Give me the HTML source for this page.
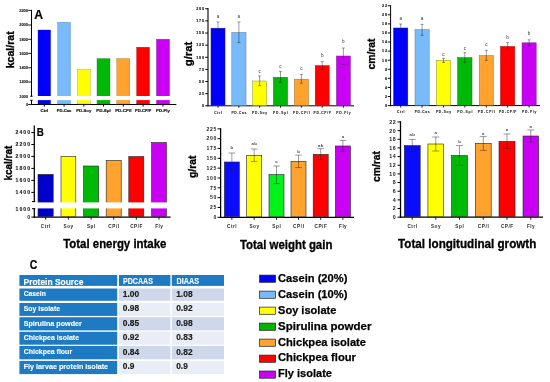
<!DOCTYPE html>
<html lang="en"><head><meta charset="utf-8"><title>Figure</title>
<style>
html,body{margin:0;padding:0;background:#fff;}
body{width:550px;height:382px;overflow:hidden;}
svg{display:block;}
text{font-family:"Liberation Sans",sans-serif;}
</style></head><body>
<svg width="550" height="382" viewBox="0 0 550 382">
<rect x="0" y="0" width="550" height="382" fill="#ffffff"/>
<line x1="31.5" y1="9.9" x2="31.5" y2="96.5" stroke="#000" stroke-width="1.0"/>
<line x1="31.5" y1="100" x2="31.5" y2="105" stroke="#000" stroke-width="1.0"/>
<line x1="31" y1="104.5" x2="176.4" y2="104.5" stroke="#000" stroke-width="1.0"/>
<line x1="28.2" y1="10.4" x2="31.5" y2="10.4" stroke="#000" stroke-width="0.9"/>
<text x="28" y="11.7" font-size="3.7" font-weight="bold" text-anchor="end" fill="#1c1c1c" stroke="#1c1c1c" stroke-width="0.12" textLength="8.8" lengthAdjust="spacingAndGlyphs">2200</text>
<line x1="28.2" y1="25" x2="31.5" y2="25" stroke="#000" stroke-width="0.9"/>
<text x="28" y="26.3" font-size="3.7" font-weight="bold" text-anchor="end" fill="#1c1c1c" stroke="#1c1c1c" stroke-width="0.12" textLength="8.8" lengthAdjust="spacingAndGlyphs">2000</text>
<line x1="28.2" y1="39.3" x2="31.5" y2="39.3" stroke="#000" stroke-width="0.9"/>
<text x="28" y="40.6" font-size="3.7" font-weight="bold" text-anchor="end" fill="#1c1c1c" stroke="#1c1c1c" stroke-width="0.12" textLength="8.8" lengthAdjust="spacingAndGlyphs">1800</text>
<line x1="28.2" y1="53.4" x2="31.5" y2="53.4" stroke="#000" stroke-width="0.9"/>
<text x="28" y="54.7" font-size="3.7" font-weight="bold" text-anchor="end" fill="#1c1c1c" stroke="#1c1c1c" stroke-width="0.12" textLength="8.8" lengthAdjust="spacingAndGlyphs">1600</text>
<line x1="28.2" y1="67.8" x2="31.5" y2="67.8" stroke="#000" stroke-width="0.9"/>
<text x="28" y="69.1" font-size="3.7" font-weight="bold" text-anchor="end" fill="#1c1c1c" stroke="#1c1c1c" stroke-width="0.12" textLength="8.8" lengthAdjust="spacingAndGlyphs">1400</text>
<line x1="28.2" y1="82" x2="31.5" y2="82" stroke="#000" stroke-width="0.9"/>
<text x="28" y="83.3" font-size="3.7" font-weight="bold" text-anchor="end" fill="#1c1c1c" stroke="#1c1c1c" stroke-width="0.12" textLength="8.8" lengthAdjust="spacingAndGlyphs">1200</text>
<line x1="30.1" y1="96.2" x2="32.7" y2="96.2" stroke="#000" stroke-width="0.9"/>
<text x="28" y="97.5" font-size="3.7" font-weight="bold" text-anchor="end" fill="#1c1c1c" stroke="#1c1c1c" stroke-width="0.12" textLength="8.8" lengthAdjust="spacingAndGlyphs">1000</text>
<line x1="30.1" y1="100.3" x2="32.7" y2="100.3" stroke="#000" stroke-width="0.9"/>
<line x1="28.2" y1="104.5" x2="31.5" y2="104.5" stroke="#000" stroke-width="0.9"/>
<text x="28" y="105.8" font-size="3.7" font-weight="bold" text-anchor="end" fill="#1c1c1c" stroke="#1c1c1c" stroke-width="0.12">0</text>
<rect x="38" y="30" width="12.6" height="74" fill="#0000fa" stroke="#1a1a9a" stroke-width="0.35"/>
<line x1="44.3" y1="104.5" x2="44.3" y2="106.6" stroke="#000" stroke-width="1.0"/>
<text x="44.3" y="111.6" font-size="4.3" font-weight="bold" text-anchor="middle" fill="#202020" stroke="#202020" stroke-width="0.2" textLength="7.6" lengthAdjust="spacingAndGlyphs">Ctrl</text>
<rect x="57.6" y="22.2" width="13" height="81.8" fill="#78bafa" stroke="#5c7f9f" stroke-width="0.35"/>
<line x1="64.1" y1="104.5" x2="64.1" y2="106.6" stroke="#000" stroke-width="1.0"/>
<text x="64.1" y="111.6" font-size="4.3" font-weight="bold" text-anchor="middle" fill="#202020" stroke="#202020" stroke-width="0.2" textLength="14.6" lengthAdjust="spacingAndGlyphs">PD-Cas</text>
<rect x="77.3" y="69.4" width="13" height="34.6" fill="#ffff00" stroke="#8f8f30" stroke-width="0.35"/>
<line x1="83.8" y1="104.5" x2="83.8" y2="106.6" stroke="#000" stroke-width="1.0"/>
<text x="83.8" y="111.6" font-size="4.3" font-weight="bold" text-anchor="middle" fill="#202020" stroke="#202020" stroke-width="0.2" textLength="15" lengthAdjust="spacingAndGlyphs">PD-Soy</text>
<rect x="97" y="58.6" width="13" height="45.4" fill="#00b806" stroke="#2a6a2a" stroke-width="0.35"/>
<line x1="103.5" y1="104.5" x2="103.5" y2="106.6" stroke="#000" stroke-width="1.0"/>
<text x="103.5" y="111.6" font-size="4.3" font-weight="bold" text-anchor="middle" fill="#202020" stroke="#202020" stroke-width="0.2" textLength="14.4" lengthAdjust="spacingAndGlyphs">PD-Spl</text>
<rect x="116.8" y="58.6" width="13" height="45.4" fill="#ffa22e" stroke="#9a6a30" stroke-width="0.35"/>
<line x1="123.3" y1="104.5" x2="123.3" y2="106.6" stroke="#000" stroke-width="1.0"/>
<text x="123.3" y="111.6" font-size="4.3" font-weight="bold" text-anchor="middle" fill="#202020" stroke="#202020" stroke-width="0.2" textLength="16.3" lengthAdjust="spacingAndGlyphs">PD-CP/I</text>
<rect x="136.6" y="47.2" width="13" height="56.8" fill="#ff0000" stroke="#a02020" stroke-width="0.35"/>
<line x1="143.1" y1="104.5" x2="143.1" y2="106.6" stroke="#000" stroke-width="1.0"/>
<text x="143.1" y="111.6" font-size="4.3" font-weight="bold" text-anchor="middle" fill="#202020" stroke="#202020" stroke-width="0.2" textLength="16.3" lengthAdjust="spacingAndGlyphs">PD-CP/F</text>
<rect x="156.4" y="39.2" width="13.2" height="64.8" fill="#c900f3" stroke="#7a2a90" stroke-width="0.35"/>
<line x1="163" y1="104.5" x2="163" y2="106.6" stroke="#000" stroke-width="1.0"/>
<text x="163" y="111.6" font-size="4.3" font-weight="bold" text-anchor="middle" fill="#202020" stroke="#202020" stroke-width="0.2" textLength="13.8" lengthAdjust="spacingAndGlyphs">PD-Fly</text>
<rect x="33" y="96" width="144" height="4.1" fill="#fff"/>
<text x="34.2" y="19.1" font-size="13" font-weight="bold" fill="#000" stroke="#000" stroke-width="0.2" textLength="8.8" lengthAdjust="spacingAndGlyphs">A</text>
<text x="14.4" y="68.3" font-size="11.1" font-weight="bold" fill="#000" stroke="#000" stroke-width="0.3" textLength="37.1" lengthAdjust="spacingAndGlyphs" transform="rotate(-90 14.4 68.3)">kcal/rat</text>
<line x1="208" y1="8.1" x2="208" y2="106.3" stroke="#000" stroke-width="1.1"/>
<line x1="207.5" y1="105.8" x2="354" y2="105.8" stroke="#000" stroke-width="1.0"/>
<line x1="205.2" y1="105.8" x2="208" y2="105.8" stroke="#000" stroke-width="0.95"/>
<text x="204" y="107.1" font-size="3.7" font-weight="bold" text-anchor="end" fill="#1c1c1c" stroke="#1c1c1c" stroke-width="0.15">0</text>
<line x1="205.2" y1="93.67" x2="208" y2="93.67" stroke="#000" stroke-width="0.95"/>
<text x="204" y="94.97" font-size="3.7" font-weight="bold" text-anchor="end" fill="#1c1c1c" stroke="#1c1c1c" stroke-width="0.15" textLength="5" lengthAdjust="spacing">25</text>
<line x1="205.2" y1="81.54" x2="208" y2="81.54" stroke="#000" stroke-width="0.95"/>
<text x="204" y="82.84" font-size="3.7" font-weight="bold" text-anchor="end" fill="#1c1c1c" stroke="#1c1c1c" stroke-width="0.15" textLength="5" lengthAdjust="spacing">50</text>
<line x1="205.2" y1="69.41" x2="208" y2="69.41" stroke="#000" stroke-width="0.95"/>
<text x="204" y="70.71" font-size="3.7" font-weight="bold" text-anchor="end" fill="#1c1c1c" stroke="#1c1c1c" stroke-width="0.15" textLength="5" lengthAdjust="spacing">75</text>
<line x1="205.2" y1="57.28" x2="208" y2="57.28" stroke="#000" stroke-width="0.95"/>
<text x="204" y="58.58" font-size="3.7" font-weight="bold" text-anchor="end" fill="#1c1c1c" stroke="#1c1c1c" stroke-width="0.15" textLength="7.7" lengthAdjust="spacing">100</text>
<line x1="205.2" y1="45.15" x2="208" y2="45.15" stroke="#000" stroke-width="0.95"/>
<text x="204" y="46.45" font-size="3.7" font-weight="bold" text-anchor="end" fill="#1c1c1c" stroke="#1c1c1c" stroke-width="0.15" textLength="7.7" lengthAdjust="spacing">125</text>
<line x1="205.2" y1="33.02" x2="208" y2="33.02" stroke="#000" stroke-width="0.95"/>
<text x="204" y="34.32" font-size="3.7" font-weight="bold" text-anchor="end" fill="#1c1c1c" stroke="#1c1c1c" stroke-width="0.15" textLength="7.7" lengthAdjust="spacing">150</text>
<line x1="205.2" y1="20.89" x2="208" y2="20.89" stroke="#000" stroke-width="0.95"/>
<text x="204" y="22.19" font-size="3.7" font-weight="bold" text-anchor="end" fill="#1c1c1c" stroke="#1c1c1c" stroke-width="0.15" textLength="7.7" lengthAdjust="spacing">175</text>
<line x1="205.2" y1="8.76" x2="208" y2="8.76" stroke="#000" stroke-width="0.95"/>
<text x="204" y="10.06" font-size="3.7" font-weight="bold" text-anchor="end" fill="#1c1c1c" stroke="#1c1c1c" stroke-width="0.15" textLength="7.7" lengthAdjust="spacing">200</text>
<rect x="211" y="28.2" width="14" height="77.2" fill="#0000fa" stroke="#1a1a9a" stroke-width="0.5"/>
<line x1="218" y1="22" x2="218" y2="34.6" stroke="#222" stroke-width="0.45"/>
<line x1="216.5" y1="22" x2="219.5" y2="22" stroke="#222" stroke-width="0.45"/>
<line x1="216.5" y1="34.6" x2="219.5" y2="34.6" stroke="#222" stroke-width="0.45"/>
<line x1="218" y1="105.8" x2="218" y2="107.7" stroke="#000" stroke-width="0.9"/>
<text x="218" y="113.6" font-size="3.3" font-weight="bold" text-anchor="middle" fill="#2c2c2c" stroke="#2c2c2c" stroke-width="0.1" textLength="7.6" lengthAdjust="spacing">Ctrl</text>
<text x="218" y="17.8" font-size="4.6" text-anchor="middle" fill="#333">a</text>
<rect x="231.8" y="32.4" width="14.2" height="73" fill="#78bafa" stroke="#5c7f9f" stroke-width="0.5"/>
<line x1="238.9" y1="22" x2="238.9" y2="42.6" stroke="#222" stroke-width="0.45"/>
<line x1="237.4" y1="22" x2="240.4" y2="22" stroke="#222" stroke-width="0.45"/>
<line x1="237.4" y1="42.6" x2="240.4" y2="42.6" stroke="#222" stroke-width="0.45"/>
<line x1="238.9" y1="105.8" x2="238.9" y2="107.7" stroke="#000" stroke-width="0.9"/>
<text x="238.9" y="113.6" font-size="3.3" font-weight="bold" text-anchor="middle" fill="#2c2c2c" stroke="#2c2c2c" stroke-width="0.1" textLength="14.8" lengthAdjust="spacing">PD-Cas</text>
<text x="238.9" y="17.8" font-size="4.6" text-anchor="middle" fill="#333">a</text>
<rect x="252.6" y="81" width="14" height="24.4" fill="#ffff00" stroke="#8f8f30" stroke-width="0.5"/>
<line x1="259.6" y1="76" x2="259.6" y2="85.6" stroke="#222" stroke-width="0.45"/>
<line x1="258.1" y1="76" x2="261.1" y2="76" stroke="#222" stroke-width="0.45"/>
<line x1="258.1" y1="85.6" x2="261.1" y2="85.6" stroke="#222" stroke-width="0.45"/>
<line x1="259.6" y1="105.8" x2="259.6" y2="107.7" stroke="#000" stroke-width="0.9"/>
<text x="259.6" y="113.6" font-size="3.3" font-weight="bold" text-anchor="middle" fill="#2c2c2c" stroke="#2c2c2c" stroke-width="0.1" textLength="15" lengthAdjust="spacing">PD-Soy</text>
<text x="259.6" y="73.2" font-size="4.6" text-anchor="middle" fill="#333">c</text>
<rect x="273.4" y="77.3" width="14.2" height="28.1" fill="#00b806" stroke="#2a6a2a" stroke-width="0.5"/>
<line x1="280.5" y1="71.6" x2="280.5" y2="82.4" stroke="#222" stroke-width="0.45"/>
<line x1="279" y1="71.6" x2="282" y2="71.6" stroke="#222" stroke-width="0.45"/>
<line x1="279" y1="82.4" x2="282" y2="82.4" stroke="#222" stroke-width="0.45"/>
<line x1="280.5" y1="105.8" x2="280.5" y2="107.7" stroke="#000" stroke-width="0.9"/>
<text x="280.5" y="113.6" font-size="3.3" font-weight="bold" text-anchor="middle" fill="#2c2c2c" stroke="#2c2c2c" stroke-width="0.1" textLength="15" lengthAdjust="spacing">PD-Spl</text>
<text x="280.5" y="68" font-size="4.6" text-anchor="middle" fill="#333">c</text>
<rect x="294.4" y="79.2" width="14" height="26.2" fill="#ffa22e" stroke="#9a6a30" stroke-width="0.5"/>
<line x1="301.4" y1="74.4" x2="301.4" y2="83.2" stroke="#222" stroke-width="0.45"/>
<line x1="299.9" y1="74.4" x2="302.9" y2="74.4" stroke="#222" stroke-width="0.45"/>
<line x1="299.9" y1="83.2" x2="302.9" y2="83.2" stroke="#222" stroke-width="0.45"/>
<line x1="301.4" y1="105.8" x2="301.4" y2="107.7" stroke="#000" stroke-width="0.9"/>
<text x="301.4" y="113.6" font-size="3.3" font-weight="bold" text-anchor="middle" fill="#2c2c2c" stroke="#2c2c2c" stroke-width="0.1" textLength="17" lengthAdjust="spacing">PD-CP/I</text>
<text x="301.4" y="70.4" font-size="4.6" text-anchor="middle" fill="#333">c</text>
<rect x="315.2" y="65.6" width="14" height="39.8" fill="#ff0000" stroke="#a02020" stroke-width="0.5"/>
<line x1="322.2" y1="61.6" x2="322.2" y2="69.4" stroke="#222" stroke-width="0.45"/>
<line x1="320.7" y1="61.6" x2="323.7" y2="61.6" stroke="#222" stroke-width="0.45"/>
<line x1="320.7" y1="69.4" x2="323.7" y2="69.4" stroke="#222" stroke-width="0.45"/>
<line x1="322.2" y1="105.8" x2="322.2" y2="107.7" stroke="#000" stroke-width="0.9"/>
<text x="322.2" y="113.6" font-size="3.3" font-weight="bold" text-anchor="middle" fill="#2c2c2c" stroke="#2c2c2c" stroke-width="0.1" textLength="17.4" lengthAdjust="spacing">PD-CP/F</text>
<text x="322.2" y="57.4" font-size="4.6" text-anchor="middle" fill="#333">b</text>
<rect x="336.4" y="56" width="14" height="49.4" fill="#c900f3" stroke="#7a2a90" stroke-width="0.5"/>
<line x1="343.4" y1="48" x2="343.4" y2="64.4" stroke="#222" stroke-width="0.45"/>
<line x1="341.9" y1="48" x2="344.9" y2="48" stroke="#222" stroke-width="0.45"/>
<line x1="341.9" y1="64.4" x2="344.9" y2="64.4" stroke="#222" stroke-width="0.45"/>
<line x1="343.4" y1="105.8" x2="343.4" y2="107.7" stroke="#000" stroke-width="0.9"/>
<text x="343.4" y="113.6" font-size="3.3" font-weight="bold" text-anchor="middle" fill="#2c2c2c" stroke="#2c2c2c" stroke-width="0.1" textLength="14.4" lengthAdjust="spacing">PD-Fly</text>
<text x="343.4" y="43.4" font-size="4.6" text-anchor="middle" fill="#333">b</text>
<text x="192.4" y="66.3" font-size="11.1" font-weight="bold" fill="#000" stroke="#000" stroke-width="0.3" textLength="24.7" lengthAdjust="spacingAndGlyphs" transform="rotate(-90 192.4 66.3)">g/rat</text>
<line x1="390.6" y1="5.2" x2="390.6" y2="106.1" stroke="#000" stroke-width="1.0"/>
<line x1="390.1" y1="105.6" x2="540" y2="105.6" stroke="#000" stroke-width="1.0"/>
<line x1="387.8" y1="105.6" x2="390.6" y2="105.6" stroke="#000" stroke-width="0.95"/>
<text x="387" y="106.9" font-size="3.7" font-weight="bold" text-anchor="end" fill="#1c1c1c" stroke="#1c1c1c" stroke-width="0.15">0</text>
<line x1="387.8" y1="96.52" x2="390.6" y2="96.52" stroke="#000" stroke-width="0.95"/>
<text x="387" y="97.82" font-size="3.7" font-weight="bold" text-anchor="end" fill="#1c1c1c" stroke="#1c1c1c" stroke-width="0.15">2</text>
<line x1="387.8" y1="87.44" x2="390.6" y2="87.44" stroke="#000" stroke-width="0.95"/>
<text x="387" y="88.74" font-size="3.7" font-weight="bold" text-anchor="end" fill="#1c1c1c" stroke="#1c1c1c" stroke-width="0.15">4</text>
<line x1="387.8" y1="78.36" x2="390.6" y2="78.36" stroke="#000" stroke-width="0.95"/>
<text x="387" y="79.66" font-size="3.7" font-weight="bold" text-anchor="end" fill="#1c1c1c" stroke="#1c1c1c" stroke-width="0.15">6</text>
<line x1="387.8" y1="69.28" x2="390.6" y2="69.28" stroke="#000" stroke-width="0.95"/>
<text x="387" y="70.58" font-size="3.7" font-weight="bold" text-anchor="end" fill="#1c1c1c" stroke="#1c1c1c" stroke-width="0.15">8</text>
<line x1="387.8" y1="60.2" x2="390.6" y2="60.2" stroke="#000" stroke-width="0.95"/>
<text x="387" y="61.5" font-size="3.7" font-weight="bold" text-anchor="end" fill="#1c1c1c" stroke="#1c1c1c" stroke-width="0.15" textLength="5" lengthAdjust="spacing">10</text>
<line x1="387.8" y1="51.12" x2="390.6" y2="51.12" stroke="#000" stroke-width="0.95"/>
<text x="387" y="52.42" font-size="3.7" font-weight="bold" text-anchor="end" fill="#1c1c1c" stroke="#1c1c1c" stroke-width="0.15" textLength="5" lengthAdjust="spacing">12</text>
<line x1="387.8" y1="42.04" x2="390.6" y2="42.04" stroke="#000" stroke-width="0.95"/>
<text x="387" y="43.34" font-size="3.7" font-weight="bold" text-anchor="end" fill="#1c1c1c" stroke="#1c1c1c" stroke-width="0.15" textLength="5" lengthAdjust="spacing">14</text>
<line x1="387.8" y1="32.96" x2="390.6" y2="32.96" stroke="#000" stroke-width="0.95"/>
<text x="387" y="34.26" font-size="3.7" font-weight="bold" text-anchor="end" fill="#1c1c1c" stroke="#1c1c1c" stroke-width="0.15" textLength="5" lengthAdjust="spacing">16</text>
<line x1="387.8" y1="23.88" x2="390.6" y2="23.88" stroke="#000" stroke-width="0.95"/>
<text x="387" y="25.18" font-size="3.7" font-weight="bold" text-anchor="end" fill="#1c1c1c" stroke="#1c1c1c" stroke-width="0.15" textLength="5" lengthAdjust="spacing">18</text>
<line x1="387.8" y1="14.8" x2="390.6" y2="14.8" stroke="#000" stroke-width="0.95"/>
<text x="387" y="16.1" font-size="3.7" font-weight="bold" text-anchor="end" fill="#1c1c1c" stroke="#1c1c1c" stroke-width="0.15" textLength="5" lengthAdjust="spacing">20</text>
<line x1="387.8" y1="5.72" x2="390.6" y2="5.72" stroke="#000" stroke-width="0.95"/>
<text x="387" y="7.02" font-size="3.7" font-weight="bold" text-anchor="end" fill="#1c1c1c" stroke="#1c1c1c" stroke-width="0.15" textLength="5" lengthAdjust="spacing">22</text>
<rect x="393.6" y="28" width="14.2" height="77.2" fill="#0000fa" stroke="#1a1a9a" stroke-width="0.5"/>
<line x1="400.7" y1="24" x2="400.7" y2="31.6" stroke="#222" stroke-width="0.45"/>
<line x1="399.2" y1="24" x2="402.2" y2="24" stroke="#222" stroke-width="0.45"/>
<line x1="399.2" y1="31.6" x2="402.2" y2="31.6" stroke="#222" stroke-width="0.45"/>
<line x1="400.7" y1="105.6" x2="400.7" y2="107.5" stroke="#000" stroke-width="0.9"/>
<text x="400.7" y="113.4" font-size="3.3" font-weight="bold" text-anchor="middle" fill="#2c2c2c" stroke="#2c2c2c" stroke-width="0.1" textLength="7.6" lengthAdjust="spacing">Ctrl</text>
<text x="400.7" y="20.4" font-size="4.6" text-anchor="middle" fill="#333">a</text>
<rect x="415" y="29.6" width="14.2" height="75.6" fill="#78bafa" stroke="#5c7f9f" stroke-width="0.5"/>
<line x1="422.1" y1="24.4" x2="422.1" y2="35.4" stroke="#222" stroke-width="0.45"/>
<line x1="420.6" y1="24.4" x2="423.6" y2="24.4" stroke="#222" stroke-width="0.45"/>
<line x1="420.6" y1="35.4" x2="423.6" y2="35.4" stroke="#222" stroke-width="0.45"/>
<line x1="422.1" y1="105.6" x2="422.1" y2="107.5" stroke="#000" stroke-width="0.9"/>
<text x="422.1" y="113.4" font-size="3.3" font-weight="bold" text-anchor="middle" fill="#2c2c2c" stroke="#2c2c2c" stroke-width="0.1" textLength="14.8" lengthAdjust="spacing">PD-Cas</text>
<text x="422.1" y="20.4" font-size="4.6" text-anchor="middle" fill="#333">a</text>
<rect x="436.4" y="60.4" width="14.2" height="44.8" fill="#ffff00" stroke="#8f8f30" stroke-width="0.5"/>
<line x1="443.5" y1="58.4" x2="443.5" y2="62.4" stroke="#222" stroke-width="0.45"/>
<line x1="442" y1="58.4" x2="445" y2="58.4" stroke="#222" stroke-width="0.45"/>
<line x1="442" y1="62.4" x2="445" y2="62.4" stroke="#222" stroke-width="0.45"/>
<line x1="443.5" y1="105.6" x2="443.5" y2="107.5" stroke="#000" stroke-width="0.9"/>
<text x="443.5" y="113.4" font-size="3.3" font-weight="bold" text-anchor="middle" fill="#2c2c2c" stroke="#2c2c2c" stroke-width="0.1" textLength="15" lengthAdjust="spacing">PD-Soy</text>
<text x="443.5" y="55.6" font-size="4.6" text-anchor="middle" fill="#333">c</text>
<rect x="457.6" y="57.6" width="14.4" height="47.6" fill="#00b806" stroke="#2a6a2a" stroke-width="0.5"/>
<line x1="464.8" y1="52.6" x2="464.8" y2="62.4" stroke="#222" stroke-width="0.45"/>
<line x1="463.3" y1="52.6" x2="466.3" y2="52.6" stroke="#222" stroke-width="0.45"/>
<line x1="463.3" y1="62.4" x2="466.3" y2="62.4" stroke="#222" stroke-width="0.45"/>
<line x1="464.8" y1="105.6" x2="464.8" y2="107.5" stroke="#000" stroke-width="0.9"/>
<text x="464.8" y="113.4" font-size="3.3" font-weight="bold" text-anchor="middle" fill="#2c2c2c" stroke="#2c2c2c" stroke-width="0.1" textLength="15" lengthAdjust="spacing">PD-Spl</text>
<text x="464.8" y="49.5" font-size="4.6" text-anchor="middle" fill="#333">c</text>
<rect x="479.2" y="55.6" width="14.2" height="49.6" fill="#ffa22e" stroke="#9a6a30" stroke-width="0.5"/>
<line x1="486.3" y1="50.4" x2="486.3" y2="60.4" stroke="#222" stroke-width="0.45"/>
<line x1="484.8" y1="50.4" x2="487.8" y2="50.4" stroke="#222" stroke-width="0.45"/>
<line x1="484.8" y1="60.4" x2="487.8" y2="60.4" stroke="#222" stroke-width="0.45"/>
<line x1="486.3" y1="105.6" x2="486.3" y2="107.5" stroke="#000" stroke-width="0.9"/>
<text x="486.3" y="113.4" font-size="3.3" font-weight="bold" text-anchor="middle" fill="#2c2c2c" stroke="#2c2c2c" stroke-width="0.1" textLength="17" lengthAdjust="spacing">PD-CP/I</text>
<text x="486.3" y="46.4" font-size="4.6" text-anchor="middle" fill="#333">c</text>
<rect x="500.4" y="46.4" width="14.4" height="58.8" fill="#ff0000" stroke="#a02020" stroke-width="0.5"/>
<line x1="507.6" y1="42.6" x2="507.6" y2="49.6" stroke="#222" stroke-width="0.45"/>
<line x1="506.1" y1="42.6" x2="509.1" y2="42.6" stroke="#222" stroke-width="0.45"/>
<line x1="506.1" y1="49.6" x2="509.1" y2="49.6" stroke="#222" stroke-width="0.45"/>
<line x1="507.6" y1="105.6" x2="507.6" y2="107.5" stroke="#000" stroke-width="0.9"/>
<text x="507.6" y="113.4" font-size="3.3" font-weight="bold" text-anchor="middle" fill="#2c2c2c" stroke="#2c2c2c" stroke-width="0.1" textLength="17.4" lengthAdjust="spacing">PD-CP/F</text>
<text x="507.6" y="39" font-size="4.6" text-anchor="middle" fill="#333">b</text>
<rect x="522" y="42.8" width="14.2" height="62.4" fill="#c900f3" stroke="#7a2a90" stroke-width="0.5"/>
<line x1="529.1" y1="39.8" x2="529.1" y2="45.8" stroke="#222" stroke-width="0.45"/>
<line x1="527.6" y1="39.8" x2="530.6" y2="39.8" stroke="#222" stroke-width="0.45"/>
<line x1="527.6" y1="45.8" x2="530.6" y2="45.8" stroke="#222" stroke-width="0.45"/>
<line x1="529.1" y1="105.6" x2="529.1" y2="107.5" stroke="#000" stroke-width="0.9"/>
<text x="529.1" y="113.4" font-size="3.3" font-weight="bold" text-anchor="middle" fill="#2c2c2c" stroke="#2c2c2c" stroke-width="0.1" textLength="14.4" lengthAdjust="spacing">PD-Fly</text>
<text x="529.1" y="35.4" font-size="4.6" text-anchor="middle" fill="#333">b</text>
<text x="375.4" y="69.6" font-size="10.8" font-weight="bold" fill="#000" stroke="#000" stroke-width="0.3" textLength="31.2" lengthAdjust="spacingAndGlyphs" transform="rotate(-90 375.4 69.6)">cm/rat</text>
<line x1="34.3" y1="125.6" x2="34.3" y2="202" stroke="#000" stroke-width="1.25"/>
<line x1="34.3" y1="208.2" x2="34.3" y2="217.7" stroke="#000" stroke-width="1.25"/>
<line x1="33.7" y1="217.1" x2="170.6" y2="217.1" stroke="#000" stroke-width="1.2"/>
<line x1="31.3" y1="132.6" x2="34.3" y2="132.6" stroke="#000" stroke-width="1.0"/>
<text x="30" y="134.4" font-size="5.1" font-weight="bold" text-anchor="end" fill="#1c1c1c" stroke="#1c1c1c" stroke-width="0.12" textLength="14.4" lengthAdjust="spacing">2400</text>
<line x1="31.3" y1="144.5" x2="34.3" y2="144.5" stroke="#000" stroke-width="1.0"/>
<text x="30" y="146.3" font-size="5.1" font-weight="bold" text-anchor="end" fill="#1c1c1c" stroke="#1c1c1c" stroke-width="0.12" textLength="14.4" lengthAdjust="spacing">2200</text>
<line x1="31.3" y1="156.4" x2="34.3" y2="156.4" stroke="#000" stroke-width="1.0"/>
<text x="30" y="158.2" font-size="5.1" font-weight="bold" text-anchor="end" fill="#1c1c1c" stroke="#1c1c1c" stroke-width="0.12" textLength="14.4" lengthAdjust="spacing">2000</text>
<line x1="31.3" y1="168.4" x2="34.3" y2="168.4" stroke="#000" stroke-width="1.0"/>
<text x="30" y="170.2" font-size="5.1" font-weight="bold" text-anchor="end" fill="#1c1c1c" stroke="#1c1c1c" stroke-width="0.12" textLength="14.4" lengthAdjust="spacing">1800</text>
<line x1="31.3" y1="180.4" x2="34.3" y2="180.4" stroke="#000" stroke-width="1.0"/>
<text x="30" y="182.2" font-size="5.1" font-weight="bold" text-anchor="end" fill="#1c1c1c" stroke="#1c1c1c" stroke-width="0.12" textLength="14.4" lengthAdjust="spacing">1600</text>
<line x1="31.3" y1="192.4" x2="34.3" y2="192.4" stroke="#000" stroke-width="1.0"/>
<text x="30" y="194.2" font-size="5.1" font-weight="bold" text-anchor="end" fill="#1c1c1c" stroke="#1c1c1c" stroke-width="0.12" textLength="14.4" lengthAdjust="spacing">1400</text>
<line x1="32" y1="201.6" x2="35.3" y2="201.6" stroke="#000" stroke-width="1.0"/>
<line x1="32" y1="208.7" x2="35.3" y2="208.7" stroke="#000" stroke-width="1.0"/>
<text x="30" y="210.7" font-size="5.1" font-weight="bold" text-anchor="end" fill="#1c1c1c" stroke="#1c1c1c" stroke-width="0.12" textLength="14.4" lengthAdjust="spacing">1000</text>
<line x1="31.3" y1="217.1" x2="34.3" y2="217.1" stroke="#000" stroke-width="1.0"/>
<text x="30" y="219.2" font-size="5.1" font-weight="bold" text-anchor="end" fill="#1c1c1c">0</text>
<rect x="38" y="174.4" width="15.2" height="42.2" fill="#0000cc" stroke="#222" stroke-width="0.6"/>
<line x1="45.6" y1="217.1" x2="45.6" y2="219.6" stroke="#000" stroke-width="0.9"/>
<text x="45.6" y="227.8" font-size="4.7" font-weight="bold" text-anchor="middle" fill="#2a2a2a" textLength="9.5" lengthAdjust="spacing">Ctrl</text>
<rect x="61" y="156.4" width="14.8" height="60.2" fill="#ffff00" stroke="#222" stroke-width="0.6"/>
<line x1="68.4" y1="217.1" x2="68.4" y2="219.6" stroke="#000" stroke-width="0.9"/>
<text x="68.4" y="227.8" font-size="4.7" font-weight="bold" text-anchor="middle" fill="#2a2a2a" textLength="9.6" lengthAdjust="spacing">Soy</text>
<rect x="83.6" y="166" width="15" height="50.6" fill="#00b806" stroke="#222" stroke-width="0.6"/>
<line x1="91.1" y1="217.1" x2="91.1" y2="219.6" stroke="#000" stroke-width="0.9"/>
<text x="91.1" y="227.8" font-size="4.7" font-weight="bold" text-anchor="middle" fill="#2a2a2a" textLength="8.4" lengthAdjust="spacing">Spl</text>
<rect x="106.2" y="160.4" width="15" height="56.2" fill="#ffa22e" stroke="#222" stroke-width="0.6"/>
<line x1="113.7" y1="217.1" x2="113.7" y2="219.6" stroke="#000" stroke-width="0.9"/>
<text x="113.7" y="227.8" font-size="4.7" font-weight="bold" text-anchor="middle" fill="#2a2a2a" textLength="11" lengthAdjust="spacing">CP/I</text>
<rect x="128.8" y="156.6" width="15" height="60" fill="#ff0000" stroke="#222" stroke-width="0.6"/>
<line x1="136.3" y1="217.1" x2="136.3" y2="219.6" stroke="#000" stroke-width="0.9"/>
<text x="136.3" y="227.8" font-size="4.7" font-weight="bold" text-anchor="middle" fill="#2a2a2a" textLength="12.2" lengthAdjust="spacing">CP/F</text>
<rect x="151.6" y="142.6" width="14.8" height="74" fill="#c900f3" stroke="#222" stroke-width="0.6"/>
<line x1="159" y1="217.1" x2="159" y2="219.6" stroke="#000" stroke-width="0.9"/>
<text x="159" y="227.8" font-size="4.7" font-weight="bold" text-anchor="middle" fill="#2a2a2a" textLength="7.6" lengthAdjust="spacing">Fly</text>
<rect x="35.5" y="202.4" width="136.5" height="6" fill="#fff"/>
<text x="36.8" y="136.4" font-size="11.7" font-weight="bold" fill="#000" stroke="#000" stroke-width="0.2" textLength="7.1" lengthAdjust="spacingAndGlyphs">B</text>
<text x="12.4" y="180.6" font-size="10.4" font-weight="bold" fill="#000" stroke="#000" stroke-width="0.3" textLength="35" lengthAdjust="spacingAndGlyphs" transform="rotate(-90 12.4 180.6)">kcal/rat</text>
<text x="63.2" y="248.2" font-size="11.9" font-weight="bold" fill="#000" stroke="#000" stroke-width="0.3" textLength="103.2" lengthAdjust="spacingAndGlyphs">Total energy intake</text>
<line x1="220.6" y1="128.2" x2="220.6" y2="217.9" stroke="#000" stroke-width="1.25"/>
<line x1="220" y1="217.3" x2="354" y2="217.3" stroke="#000" stroke-width="1.2"/>
<line x1="217.6" y1="217.3" x2="220.6" y2="217.3" stroke="#000" stroke-width="1.0"/>
<text x="216.4" y="219.1" font-size="5.1" font-weight="bold" text-anchor="end" fill="#1c1c1c">0</text>
<line x1="217.6" y1="207.47" x2="220.6" y2="207.47" stroke="#000" stroke-width="1.0"/>
<text x="216.4" y="209.27" font-size="5.1" font-weight="bold" text-anchor="end" fill="#1c1c1c" textLength="6.4" lengthAdjust="spacing">25</text>
<line x1="217.6" y1="197.64" x2="220.6" y2="197.64" stroke="#000" stroke-width="1.0"/>
<text x="216.4" y="199.44" font-size="5.1" font-weight="bold" text-anchor="end" fill="#1c1c1c" textLength="6.4" lengthAdjust="spacing">50</text>
<line x1="217.6" y1="187.81" x2="220.6" y2="187.81" stroke="#000" stroke-width="1.0"/>
<text x="216.4" y="189.61" font-size="5.1" font-weight="bold" text-anchor="end" fill="#1c1c1c" textLength="6.4" lengthAdjust="spacing">75</text>
<line x1="217.6" y1="177.98" x2="220.6" y2="177.98" stroke="#000" stroke-width="1.0"/>
<text x="216.4" y="179.78" font-size="5.1" font-weight="bold" text-anchor="end" fill="#1c1c1c" textLength="10" lengthAdjust="spacing">100</text>
<line x1="217.6" y1="168.15" x2="220.6" y2="168.15" stroke="#000" stroke-width="1.0"/>
<text x="216.4" y="169.95" font-size="5.1" font-weight="bold" text-anchor="end" fill="#1c1c1c" textLength="10" lengthAdjust="spacing">125</text>
<line x1="217.6" y1="158.32" x2="220.6" y2="158.32" stroke="#000" stroke-width="1.0"/>
<text x="216.4" y="160.12" font-size="5.1" font-weight="bold" text-anchor="end" fill="#1c1c1c" textLength="10" lengthAdjust="spacing">150</text>
<line x1="217.6" y1="148.49" x2="220.6" y2="148.49" stroke="#000" stroke-width="1.0"/>
<text x="216.4" y="150.29" font-size="5.1" font-weight="bold" text-anchor="end" fill="#1c1c1c" textLength="10" lengthAdjust="spacing">175</text>
<line x1="217.6" y1="138.66" x2="220.6" y2="138.66" stroke="#000" stroke-width="1.0"/>
<text x="216.4" y="140.46" font-size="5.1" font-weight="bold" text-anchor="end" fill="#1c1c1c" textLength="10" lengthAdjust="spacing">200</text>
<line x1="217.6" y1="128.83" x2="220.6" y2="128.83" stroke="#000" stroke-width="1.0"/>
<text x="216.4" y="130.63" font-size="5.1" font-weight="bold" text-anchor="end" fill="#1c1c1c" textLength="10" lengthAdjust="spacing">225</text>
<rect x="224.4" y="162" width="14.9" height="54.8" fill="#0a0cff" stroke="#222" stroke-width="0.6"/>
<line x1="231.85" y1="153" x2="231.85" y2="171" stroke="#222" stroke-width="0.45"/>
<line x1="228.55" y1="153" x2="235.15" y2="153" stroke="#222" stroke-width="0.45"/>
<line x1="228.55" y1="171" x2="235.15" y2="171" stroke="#222" stroke-width="0.45"/>
<line x1="231.85" y1="217.3" x2="231.85" y2="219.8" stroke="#000" stroke-width="0.9"/>
<text x="231.85" y="227.8" font-size="4.7" font-weight="bold" text-anchor="middle" fill="#2a2a2a" textLength="9.5" lengthAdjust="spacing">Ctrl</text>
<text x="231.85" y="149" font-size="4.3" font-weight="bold" text-anchor="middle" fill="#444">b</text>
<rect x="246.7" y="155.4" width="15" height="61.4" fill="#ffff00" stroke="#222" stroke-width="0.6"/>
<line x1="254.2" y1="149" x2="254.2" y2="161.4" stroke="#222" stroke-width="0.45"/>
<line x1="250.9" y1="149" x2="257.5" y2="149" stroke="#222" stroke-width="0.45"/>
<line x1="250.9" y1="161.4" x2="257.5" y2="161.4" stroke="#222" stroke-width="0.45"/>
<line x1="254.2" y1="217.3" x2="254.2" y2="219.8" stroke="#000" stroke-width="0.9"/>
<text x="254.2" y="227.8" font-size="4.7" font-weight="bold" text-anchor="middle" fill="#2a2a2a" textLength="9.6" lengthAdjust="spacing">Soy</text>
<text x="254.2" y="145.2" font-size="4.3" font-weight="bold" text-anchor="middle" fill="#444" textLength="5.4" lengthAdjust="spacing">ab</text>
<rect x="269" y="174.6" width="15" height="42.2" fill="#00f218" stroke="#222" stroke-width="0.6"/>
<line x1="276.5" y1="166" x2="276.5" y2="183.6" stroke="#222" stroke-width="0.45"/>
<line x1="273.2" y1="166" x2="279.8" y2="166" stroke="#222" stroke-width="0.45"/>
<line x1="273.2" y1="183.6" x2="279.8" y2="183.6" stroke="#222" stroke-width="0.45"/>
<line x1="276.5" y1="217.3" x2="276.5" y2="219.8" stroke="#000" stroke-width="0.9"/>
<text x="276.5" y="227.8" font-size="4.7" font-weight="bold" text-anchor="middle" fill="#2a2a2a" textLength="8.4" lengthAdjust="spacing">Spl</text>
<text x="276.5" y="163" font-size="4.3" font-weight="bold" text-anchor="middle" fill="#444">c</text>
<rect x="291" y="161.4" width="15" height="55.4" fill="#ffa22e" stroke="#222" stroke-width="0.6"/>
<line x1="298.5" y1="155.2" x2="298.5" y2="167.6" stroke="#222" stroke-width="0.45"/>
<line x1="295.2" y1="155.2" x2="301.8" y2="155.2" stroke="#222" stroke-width="0.45"/>
<line x1="295.2" y1="167.6" x2="301.8" y2="167.6" stroke="#222" stroke-width="0.45"/>
<line x1="298.5" y1="217.3" x2="298.5" y2="219.8" stroke="#000" stroke-width="0.9"/>
<text x="298.5" y="227.8" font-size="4.7" font-weight="bold" text-anchor="middle" fill="#2a2a2a" textLength="11" lengthAdjust="spacing">CP/I</text>
<text x="298.5" y="153" font-size="4.3" font-weight="bold" text-anchor="middle" fill="#444">b</text>
<rect x="313.2" y="154.4" width="15" height="62.4" fill="#ff0000" stroke="#222" stroke-width="0.6"/>
<line x1="320.7" y1="148.6" x2="320.7" y2="159.6" stroke="#222" stroke-width="0.45"/>
<line x1="317.4" y1="148.6" x2="324" y2="148.6" stroke="#222" stroke-width="0.45"/>
<line x1="317.4" y1="159.6" x2="324" y2="159.6" stroke="#222" stroke-width="0.45"/>
<line x1="320.7" y1="217.3" x2="320.7" y2="219.8" stroke="#000" stroke-width="0.9"/>
<text x="320.7" y="227.8" font-size="4.7" font-weight="bold" text-anchor="middle" fill="#2a2a2a" textLength="12.2" lengthAdjust="spacing">CP/F</text>
<text x="320.7" y="147" font-size="4.3" font-weight="bold" text-anchor="middle" fill="#444" textLength="5.4" lengthAdjust="spacing">ab</text>
<rect x="335.4" y="146" width="15" height="70.8" fill="#c900f3" stroke="#222" stroke-width="0.6"/>
<line x1="342.9" y1="140.4" x2="342.9" y2="151.4" stroke="#222" stroke-width="0.45"/>
<line x1="339.6" y1="140.4" x2="346.2" y2="140.4" stroke="#222" stroke-width="0.45"/>
<line x1="339.6" y1="151.4" x2="346.2" y2="151.4" stroke="#222" stroke-width="0.45"/>
<line x1="342.9" y1="217.3" x2="342.9" y2="219.8" stroke="#000" stroke-width="0.9"/>
<text x="342.9" y="227.8" font-size="4.7" font-weight="bold" text-anchor="middle" fill="#2a2a2a" textLength="7.6" lengthAdjust="spacing">Fly</text>
<text x="342.9" y="137.6" font-size="4.3" font-weight="bold" text-anchor="middle" fill="#444">a</text>
<text x="195.8" y="178" font-size="10.4" font-weight="bold" fill="#000" stroke="#000" stroke-width="0.3" textLength="22.4" lengthAdjust="spacingAndGlyphs" transform="rotate(-90 195.8 178)">g/rat</text>
<text x="239.9" y="248.7" font-size="11.9" font-weight="bold" fill="#000" stroke="#000" stroke-width="0.3" textLength="92.5" lengthAdjust="spacingAndGlyphs">Total weight gain</text>
<line x1="400.5" y1="121.2" x2="400.5" y2="217.8" stroke="#000" stroke-width="1.3"/>
<line x1="399.9" y1="217.2" x2="543" y2="217.2" stroke="#000" stroke-width="1.2"/>
<line x1="397.5" y1="217.2" x2="400.5" y2="217.2" stroke="#000" stroke-width="1.0"/>
<text x="395.8" y="219.1" font-size="5.3" font-weight="bold" text-anchor="end" fill="#1c1c1c">0</text>
<line x1="397.5" y1="208.54" x2="400.5" y2="208.54" stroke="#000" stroke-width="1.0"/>
<text x="395.8" y="210.44" font-size="5.3" font-weight="bold" text-anchor="end" fill="#1c1c1c">2</text>
<line x1="397.5" y1="199.88" x2="400.5" y2="199.88" stroke="#000" stroke-width="1.0"/>
<text x="395.8" y="201.78" font-size="5.3" font-weight="bold" text-anchor="end" fill="#1c1c1c">4</text>
<line x1="397.5" y1="191.22" x2="400.5" y2="191.22" stroke="#000" stroke-width="1.0"/>
<text x="395.8" y="193.12" font-size="5.3" font-weight="bold" text-anchor="end" fill="#1c1c1c">6</text>
<line x1="397.5" y1="182.56" x2="400.5" y2="182.56" stroke="#000" stroke-width="1.0"/>
<text x="395.8" y="184.46" font-size="5.3" font-weight="bold" text-anchor="end" fill="#1c1c1c">8</text>
<line x1="397.5" y1="173.9" x2="400.5" y2="173.9" stroke="#000" stroke-width="1.0"/>
<text x="395.8" y="175.8" font-size="5.3" font-weight="bold" text-anchor="end" fill="#1c1c1c" textLength="6.6" lengthAdjust="spacing">10</text>
<line x1="397.5" y1="165.24" x2="400.5" y2="165.24" stroke="#000" stroke-width="1.0"/>
<text x="395.8" y="167.14" font-size="5.3" font-weight="bold" text-anchor="end" fill="#1c1c1c" textLength="6.6" lengthAdjust="spacing">12</text>
<line x1="397.5" y1="156.58" x2="400.5" y2="156.58" stroke="#000" stroke-width="1.0"/>
<text x="395.8" y="158.48" font-size="5.3" font-weight="bold" text-anchor="end" fill="#1c1c1c" textLength="6.6" lengthAdjust="spacing">14</text>
<line x1="397.5" y1="147.92" x2="400.5" y2="147.92" stroke="#000" stroke-width="1.0"/>
<text x="395.8" y="149.82" font-size="5.3" font-weight="bold" text-anchor="end" fill="#1c1c1c" textLength="6.6" lengthAdjust="spacing">16</text>
<line x1="397.5" y1="139.26" x2="400.5" y2="139.26" stroke="#000" stroke-width="1.0"/>
<text x="395.8" y="141.16" font-size="5.3" font-weight="bold" text-anchor="end" fill="#1c1c1c" textLength="6.6" lengthAdjust="spacing">18</text>
<line x1="397.5" y1="130.6" x2="400.5" y2="130.6" stroke="#000" stroke-width="1.0"/>
<text x="395.8" y="132.5" font-size="5.3" font-weight="bold" text-anchor="end" fill="#1c1c1c" textLength="6.6" lengthAdjust="spacing">20</text>
<line x1="397.5" y1="121.94" x2="400.5" y2="121.94" stroke="#000" stroke-width="1.0"/>
<text x="395.8" y="123.84" font-size="5.3" font-weight="bold" text-anchor="end" fill="#1c1c1c" textLength="6.6" lengthAdjust="spacing">22</text>
<rect x="404.3" y="145.6" width="15.9" height="71.1" fill="#0a0cff" stroke="#222" stroke-width="0.6"/>
<line x1="412.25" y1="139.4" x2="412.25" y2="151.6" stroke="#222" stroke-width="0.45"/>
<line x1="408.75" y1="139.4" x2="415.75" y2="139.4" stroke="#222" stroke-width="0.45"/>
<line x1="408.75" y1="151.6" x2="415.75" y2="151.6" stroke="#222" stroke-width="0.45"/>
<line x1="412.25" y1="217.2" x2="412.25" y2="219.7" stroke="#000" stroke-width="0.9"/>
<text x="412.25" y="227.8" font-size="4.7" font-weight="bold" text-anchor="middle" fill="#2a2a2a" textLength="9.5" lengthAdjust="spacing">Ctrl</text>
<text x="412.25" y="135.6" font-size="4.3" font-weight="bold" text-anchor="middle" fill="#444" textLength="5.4" lengthAdjust="spacing">ab</text>
<rect x="427.9" y="144" width="15.7" height="72.7" fill="#ffff00" stroke="#222" stroke-width="0.6"/>
<line x1="435.75" y1="137" x2="435.75" y2="151" stroke="#222" stroke-width="0.45"/>
<line x1="432.25" y1="137" x2="439.25" y2="137" stroke="#222" stroke-width="0.45"/>
<line x1="432.25" y1="151" x2="439.25" y2="151" stroke="#222" stroke-width="0.45"/>
<line x1="435.75" y1="217.2" x2="435.75" y2="219.7" stroke="#000" stroke-width="0.9"/>
<text x="435.75" y="227.8" font-size="4.7" font-weight="bold" text-anchor="middle" fill="#2a2a2a" textLength="9.6" lengthAdjust="spacing">Soy</text>
<text x="435.75" y="134.2" font-size="4.3" font-weight="bold" text-anchor="middle" fill="#444">a</text>
<rect x="451.6" y="155.6" width="15.8" height="61.1" fill="#00b806" stroke="#222" stroke-width="0.6"/>
<line x1="459.5" y1="145.6" x2="459.5" y2="165.4" stroke="#222" stroke-width="0.45"/>
<line x1="456" y1="145.6" x2="463" y2="145.6" stroke="#222" stroke-width="0.45"/>
<line x1="456" y1="165.4" x2="463" y2="165.4" stroke="#222" stroke-width="0.45"/>
<line x1="459.5" y1="217.2" x2="459.5" y2="219.7" stroke="#000" stroke-width="0.9"/>
<text x="459.5" y="227.8" font-size="4.7" font-weight="bold" text-anchor="middle" fill="#2a2a2a" textLength="8.4" lengthAdjust="spacing">Spl</text>
<text x="459.5" y="142.8" font-size="4.3" font-weight="bold" text-anchor="middle" fill="#444">b</text>
<rect x="475.4" y="143.4" width="15.8" height="73.3" fill="#ffa22e" stroke="#222" stroke-width="0.6"/>
<line x1="483.3" y1="136.6" x2="483.3" y2="150.4" stroke="#222" stroke-width="0.45"/>
<line x1="479.8" y1="136.6" x2="486.8" y2="136.6" stroke="#222" stroke-width="0.45"/>
<line x1="479.8" y1="150.4" x2="486.8" y2="150.4" stroke="#222" stroke-width="0.45"/>
<line x1="483.3" y1="217.2" x2="483.3" y2="219.7" stroke="#000" stroke-width="0.9"/>
<text x="483.3" y="227.8" font-size="4.7" font-weight="bold" text-anchor="middle" fill="#2a2a2a" textLength="11" lengthAdjust="spacing">CP/I</text>
<text x="483.3" y="134.6" font-size="4.3" font-weight="bold" text-anchor="middle" fill="#444">a</text>
<rect x="499" y="141.4" width="16" height="75.3" fill="#ff0000" stroke="#222" stroke-width="0.6"/>
<line x1="507" y1="134" x2="507" y2="148.4" stroke="#222" stroke-width="0.45"/>
<line x1="503.5" y1="134" x2="510.5" y2="134" stroke="#222" stroke-width="0.45"/>
<line x1="503.5" y1="148.4" x2="510.5" y2="148.4" stroke="#222" stroke-width="0.45"/>
<line x1="507" y1="217.2" x2="507" y2="219.7" stroke="#000" stroke-width="0.9"/>
<text x="507" y="227.8" font-size="4.7" font-weight="bold" text-anchor="middle" fill="#2a2a2a" textLength="12.2" lengthAdjust="spacing">CP/F</text>
<text x="507" y="131" font-size="4.3" font-weight="bold" text-anchor="middle" fill="#444">a</text>
<rect x="523" y="136" width="15.6" height="80.7" fill="#c900f3" stroke="#222" stroke-width="0.6"/>
<line x1="530.8" y1="130" x2="530.8" y2="142" stroke="#222" stroke-width="0.45"/>
<line x1="527.3" y1="130" x2="534.3" y2="130" stroke="#222" stroke-width="0.45"/>
<line x1="527.3" y1="142" x2="534.3" y2="142" stroke="#222" stroke-width="0.45"/>
<line x1="530.8" y1="217.2" x2="530.8" y2="219.7" stroke="#000" stroke-width="0.9"/>
<text x="530.8" y="227.8" font-size="4.7" font-weight="bold" text-anchor="middle" fill="#2a2a2a" textLength="7.6" lengthAdjust="spacing">Fly</text>
<text x="530.8" y="128.2" font-size="4.3" font-weight="bold" text-anchor="middle" fill="#444">a</text>
<text x="379.6" y="182" font-size="10.4" font-weight="bold" fill="#000" stroke="#000" stroke-width="0.3" textLength="31" lengthAdjust="spacingAndGlyphs" transform="rotate(-90 379.6 182)">cm/rat</text>
<text x="398.1" y="248.4" font-size="11.9" font-weight="bold" fill="#000" stroke="#000" stroke-width="0.3" textLength="138.2" lengthAdjust="spacingAndGlyphs">Total longitudinal growth</text>
<text x="29.7" y="268.7" font-size="13.4" font-weight="bold" fill="#000" stroke="#000" stroke-width="0.2" textLength="7.6" lengthAdjust="spacingAndGlyphs">C</text>
<rect x="19.4" y="275" width="97.8" height="10.9" fill="#1e7bc3"/>
<rect x="119" y="275" width="51.4" height="10.9" fill="#1e7bc3"/>
<rect x="171.8" y="275" width="52.2" height="10.9" fill="#1e7bc3"/>
<text x="23.6" y="284.6" font-size="9.1" font-weight="bold" fill="#fff" stroke="#fff" stroke-width="0.15" textLength="59.8" lengthAdjust="spacingAndGlyphs">Protein Source</text>
<text x="123" y="283.7" font-size="8.3" font-weight="bold" fill="#fff" stroke="#fff" stroke-width="0.12" textLength="30" lengthAdjust="spacingAndGlyphs">PDCAAS</text>
<text x="176.4" y="283.7" font-size="8.3" font-weight="bold" fill="#fff" stroke="#fff" stroke-width="0.12" textLength="22.6" lengthAdjust="spacingAndGlyphs">DIAAS</text>
<rect x="19.4" y="288.5" width="97.8" height="12.3" fill="#1e7bc3"/>
<rect x="119" y="288.5" width="51.4" height="12.3" fill="#cfd7ea"/>
<rect x="171.8" y="288.5" width="52.2" height="12.3" fill="#cfd7ea"/>
<text x="23.7" y="295.9" font-size="7.8" font-weight="bold" fill="#fff" stroke="#fff" stroke-width="0.12" textLength="22.1" lengthAdjust="spacingAndGlyphs">Casein</text>
<text x="122.8" y="296.7" font-size="8.4" font-weight="bold" fill="#1a1a1a" stroke="#1a1a1a" stroke-width="0.15" textLength="16.4" lengthAdjust="spacingAndGlyphs">1.00</text>
<text x="176.2" y="296.7" font-size="8.4" font-weight="bold" fill="#1a1a1a" stroke="#1a1a1a" stroke-width="0.15" textLength="16.4" lengthAdjust="spacingAndGlyphs">1.08</text>
<rect x="19.4" y="303" width="97.8" height="12.9" fill="#1e7bc3"/>
<rect x="119" y="303" width="51.4" height="12.9" fill="#e9edf5"/>
<rect x="171.8" y="303" width="52.2" height="12.9" fill="#e9edf5"/>
<text x="23.7" y="310.6" font-size="7.8" font-weight="bold" fill="#fff" stroke="#fff" stroke-width="0.12" textLength="36.4" lengthAdjust="spacingAndGlyphs">Soy isolate</text>
<text x="122.8" y="311.2" font-size="8.4" font-weight="bold" fill="#1a1a1a" stroke="#1a1a1a" stroke-width="0.15" textLength="16.4" lengthAdjust="spacingAndGlyphs">0.98</text>
<text x="176.2" y="311.2" font-size="8.4" font-weight="bold" fill="#1a1a1a" stroke="#1a1a1a" stroke-width="0.15" textLength="16.4" lengthAdjust="spacingAndGlyphs">0.92</text>
<rect x="19.4" y="317.2" width="97.8" height="13.2" fill="#1e7bc3"/>
<rect x="119" y="317.2" width="51.4" height="13.2" fill="#cfd7ea"/>
<rect x="171.8" y="317.2" width="52.2" height="13.2" fill="#cfd7ea"/>
<text x="23.7" y="325.7" font-size="7.8" font-weight="bold" fill="#fff" stroke="#fff" stroke-width="0.12" textLength="58.1" lengthAdjust="spacingAndGlyphs">Spirulina powder</text>
<text x="122.8" y="325.6" font-size="8.4" font-weight="bold" fill="#1a1a1a" stroke="#1a1a1a" stroke-width="0.15" textLength="16.4" lengthAdjust="spacingAndGlyphs">0.85</text>
<text x="176.2" y="325.6" font-size="8.4" font-weight="bold" fill="#1a1a1a" stroke="#1a1a1a" stroke-width="0.15" textLength="16.4" lengthAdjust="spacingAndGlyphs">0.98</text>
<rect x="19.4" y="331.8" width="97.8" height="12.9" fill="#1e7bc3"/>
<rect x="119" y="331.8" width="51.4" height="12.9" fill="#e9edf5"/>
<rect x="171.8" y="331.8" width="52.2" height="12.9" fill="#e9edf5"/>
<text x="23.7" y="339.85" font-size="7.8" font-weight="bold" fill="#fff" stroke="#fff" stroke-width="0.12" textLength="55.4" lengthAdjust="spacingAndGlyphs">Chickpea isolate</text>
<text x="122.8" y="340.4" font-size="8.4" font-weight="bold" fill="#1a1a1a" stroke="#1a1a1a" stroke-width="0.15" textLength="16.4" lengthAdjust="spacingAndGlyphs">0.92</text>
<text x="176.2" y="340.4" font-size="8.4" font-weight="bold" fill="#1a1a1a" stroke="#1a1a1a" stroke-width="0.15" textLength="16.4" lengthAdjust="spacingAndGlyphs">0.83</text>
<rect x="19.4" y="346" width="97.8" height="13.3" fill="#1e7bc3"/>
<rect x="119" y="346" width="51.4" height="13.3" fill="#cfd7ea"/>
<rect x="171.8" y="346" width="52.2" height="13.3" fill="#cfd7ea"/>
<text x="23.7" y="354.2" font-size="7.8" font-weight="bold" fill="#fff" stroke="#fff" stroke-width="0.12" textLength="48.4" lengthAdjust="spacingAndGlyphs">Chickpea flour</text>
<text x="122.8" y="354.7" font-size="8.4" font-weight="bold" fill="#1a1a1a" stroke="#1a1a1a" stroke-width="0.15" textLength="16.4" lengthAdjust="spacingAndGlyphs">0.84</text>
<text x="176.2" y="354.7" font-size="8.4" font-weight="bold" fill="#1a1a1a" stroke="#1a1a1a" stroke-width="0.15" textLength="16.4" lengthAdjust="spacingAndGlyphs">0.82</text>
<rect x="19.4" y="360.9" width="97.8" height="13.2" fill="#1e7bc3"/>
<rect x="119" y="360.9" width="51.4" height="13.2" fill="#e9edf5"/>
<rect x="171.8" y="360.9" width="52.2" height="13.2" fill="#e9edf5"/>
<text x="23.7" y="368.85" font-size="7.8" font-weight="bold" fill="#fff" stroke="#fff" stroke-width="0.12" textLength="84.4" lengthAdjust="spacingAndGlyphs">Fly larvae protein isolate</text>
<text x="122.8" y="369.1" font-size="8.4" font-weight="bold" fill="#1a1a1a" stroke="#1a1a1a" stroke-width="0.15" textLength="11.6" lengthAdjust="spacingAndGlyphs">0.9</text>
<text x="176.2" y="369.1" font-size="8.4" font-weight="bold" fill="#1a1a1a" stroke="#1a1a1a" stroke-width="0.15" textLength="11.6" lengthAdjust="spacingAndGlyphs">0.9</text>
<rect x="259.6" y="275.1" width="16" height="7.2" fill="#0000fa" stroke="#222" stroke-width="0.7"/>
<text x="278" y="281.85" font-size="11.8" font-weight="bold" fill="#000" stroke="#000" stroke-width="0.25" textLength="69.4" lengthAdjust="spacingAndGlyphs">Casein (20%)</text>
<rect x="259.6" y="291.1" width="16" height="7.2" fill="#7ab9f7" stroke="#222" stroke-width="0.7"/>
<text x="278" y="297.77" font-size="11.8" font-weight="bold" fill="#000" stroke="#000" stroke-width="0.25" textLength="69.4" lengthAdjust="spacingAndGlyphs">Casein (10%)</text>
<rect x="259.6" y="307.1" width="16" height="7.2" fill="#ffff00" stroke="#222" stroke-width="0.7"/>
<text x="278" y="313.69" font-size="11.8" font-weight="bold" fill="#000" stroke="#000" stroke-width="0.25" textLength="58.4" lengthAdjust="spacingAndGlyphs">Soy isolate</text>
<rect x="259.6" y="323.1" width="16" height="7.2" fill="#00b400" stroke="#222" stroke-width="0.7"/>
<text x="278" y="329.61" font-size="11.8" font-weight="bold" fill="#000" stroke="#000" stroke-width="0.25" textLength="93.4" lengthAdjust="spacingAndGlyphs">Spirulina powder</text>
<rect x="259.6" y="339.1" width="16" height="7.2" fill="#ffa22e" stroke="#222" stroke-width="0.7"/>
<text x="278" y="345.53" font-size="11.8" font-weight="bold" fill="#000" stroke="#000" stroke-width="0.25" textLength="88" lengthAdjust="spacingAndGlyphs">Chickpea isolate</text>
<rect x="259.6" y="355.1" width="16" height="7.2" fill="#ff0000" stroke="#222" stroke-width="0.7"/>
<text x="278" y="361.45" font-size="11.8" font-weight="bold" fill="#000" stroke="#000" stroke-width="0.25" textLength="78" lengthAdjust="spacingAndGlyphs">Chickpea flour</text>
<rect x="259.6" y="371" width="16" height="7.2" fill="#c900f3" stroke="#222" stroke-width="0.7"/>
<text x="278" y="376.7" font-size="11.8" font-weight="bold" fill="#000" stroke="#000" stroke-width="0.25" textLength="54" lengthAdjust="spacingAndGlyphs">Fly isolate</text>
</svg>
</body></html>
